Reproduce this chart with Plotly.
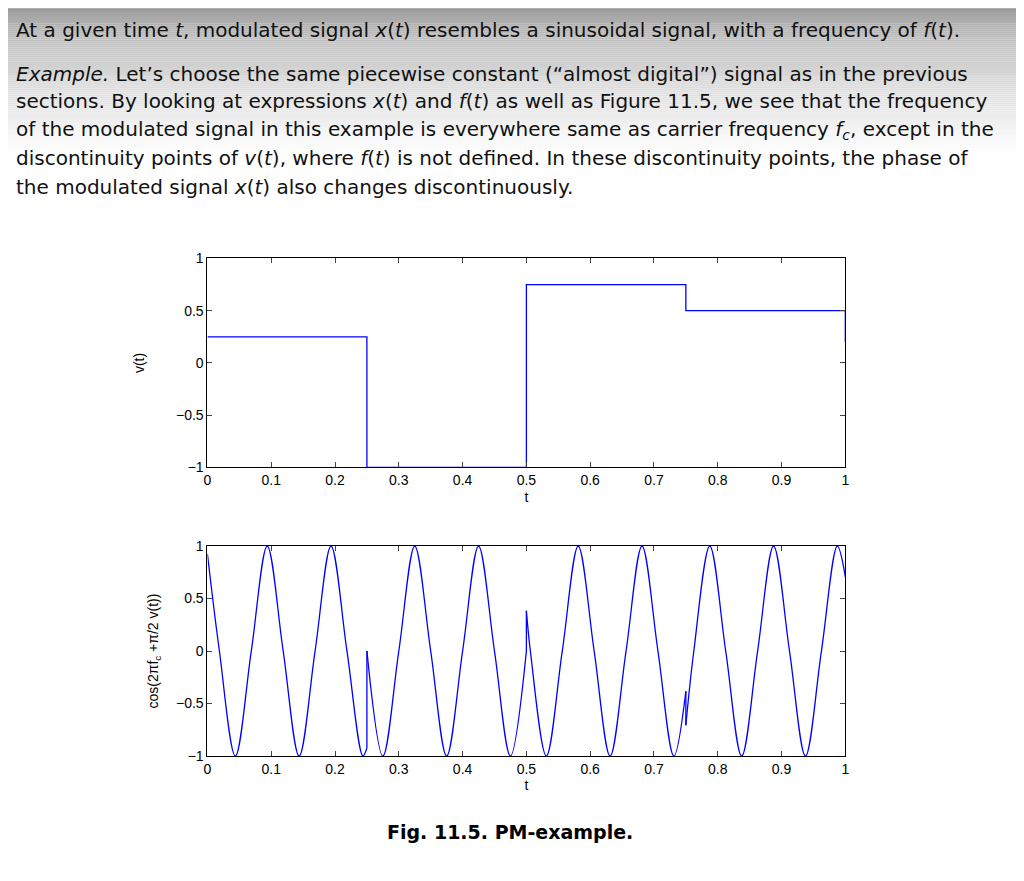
import plotly.graph_objects as go

W, H = 1024, 881
OFF = 8  # page margin of the browser

# piecewise constant message signal v(t)
v_t = [0, 0.25, 0.5, 0.75, 1.0, 1.0]
v_vals = [0.25, -1, 0.75, 0.5, 0.5, 0.2]

# key points (peaks, zero crossings, troughs) of the PM signal, read per segment
seg_t = [
    [0, 0.01875, 0.04375, 0.06875, 0.09375, 0.11875, 0.14375, 0.16875, 0.19375, 0.21875, 0.24375, 0.25],
    [0.25, 0.275, 0.3, 0.325, 0.35, 0.375, 0.4, 0.425, 0.45, 0.475, 0.5],
    [0.5, 0.50625, 0.53125, 0.55625, 0.58125, 0.60625, 0.63125, 0.65625, 0.68125, 0.70625, 0.73125, 0.75],
    [0.75, 0.7625, 0.7875, 0.8125, 0.8375, 0.8625, 0.8875, 0.9125, 0.9375, 0.9625, 0.9875, 1.0],
]
seg_x = [
    [0.924, 0, -1, 0, 1, 0, -1, 0, 1, 0, -1, -0.924],
    [0, -1, 0, 1, 0, -1, 0, 1, 0, -1, 0],
    [0.383, 0, -1, 0, 1, 0, -1, 0, 1, 0, -1, -0.383],
    [-0.707, 0, 1, 0, -1, 0, 1, 0, -1, 0, 1, 0.707],
]
# phase jumps at the discontinuities of v(t)
jump_t = [0.25, 0.25, None, 0.5, 0.5, None, 0.75, 0.75]
jump_x = [-0.924, 0, None, 0, 0.383, None, -0.383, -0.707]

text_lines = [
    (22, "At a given time <i>t</i>, modulated signal <i>x</i>(<i>t</i>) resembles a sinusoidal signal, with a frequency of <i>f</i>(<i>t</i>)."),
    (67, "<i>Example.</i> Let’s choose the same piecewise constant (“almost digital”) signal as in the previous"),
    (95, "sections. By looking at expressions <i>x</i>(<i>t</i>) and <i>f</i>(<i>t</i>) as well as Figure 11.5, we see that the frequency"),
    (124, "of the modulated signal in this example is everywhere same as carrier frequency <i>f</i><sub><i>c</i></sub>, except in the"),
    (153, "discontinuity points of <i>v</i>(<i>t</i>), where <i>f</i>(<i>t</i>) is not defined. In these discontinuity points, the phase of"),
    (182, "the modulated signal <i>x</i>(<i>t</i>) also changes discontinuously."),
]

PW, PH = W - 2 * OFF, H - 2 * OFF
def px(x):
    return (x - OFF) / PW
def py(y):
    return 1 - (y - OFF) / PH

blue = "#0000ff"
fig = go.Figure()
fig.add_trace(go.Scatter(x=v_t, y=v_vals, mode="lines", line=dict(color=blue, width=1.3, shape="hv"),
                         xaxis="x", yaxis="y"))
xs, ys = [], []
for t, x in zip(seg_t, seg_x):
    xs += t + [None]
    ys += x + [None]
fig.add_trace(go.Scatter(x=xs, y=ys, mode="lines", line=dict(color=blue, width=1.3, shape="spline", smoothing=1.0),
                         connectgaps=False, xaxis="x2", yaxis="y2"))
fig.add_trace(go.Scatter(x=jump_t, y=jump_x, mode="lines", line=dict(color=blue, width=1.3),
                         connectgaps=False, xaxis="x2", yaxis="y2"))

# gradient header background
shapes = []
n = 75
for i in range(n):
    c = int(150 + (255 - 150) * min(1, (i / (n - 1)) ** 0.6))
    shapes.append(dict(type="rect", xref="paper", yref="paper", layer="below",
                       x0=px(0), x1=px(W), y0=py((i + 1) * 2), y1=py(i * 2),
                       fillcolor=f"rgb({c},{c},{c})", line=dict(width=0)))
shapes.append(dict(type="line", xref="paper", yref="paper", x0=px(2), x1=px(2), y0=py(H), y1=py(0),
                   line=dict(color="#555", width=1.5)))

ann = []
for y, s in text_lines:
    ann.append(dict(x=px(10), y=py(y), xref="paper", yref="paper", text=s, showarrow=False,
                    xanchor="left", yanchor="middle", font=dict(family="DejaVu Sans", size=20, color="#111")))
ann.append(dict(x=px(510), y=py(853), xref="paper", yref="paper", text="<b>Fig. 11.5. PM-example.</b>",
                showarrow=False, font=dict(family="DejaVu Sans", size=19, color="black")))

lab = dict(family="Liberation Sans", size=14, color="black")
ax_common = dict(range=[0, 1], dtick=0.1, ticks="inside", ticklen=5, mirror="ticks", showline=True,
                 linecolor="black", linewidth=1, showgrid=False, zeroline=False, tickfont=lab)
ay_common = dict(range=[-1, 1], dtick=0.5, ticks="inside", ticklen=5, mirror="ticks", showline=True,
                 linecolor="black", linewidth=1, showgrid=False, zeroline=False, tickfont=lab)
xd = [px(205), px(848)]
fig.update_layout(
    width=PW, height=PH, margin=dict(l=0, r=0, t=0, b=0), showlegend=False,
    paper_bgcolor="white", plot_bgcolor="white", shapes=shapes, annotations=ann,
    xaxis=dict(ax_common, domain=xd, anchor="y", title=dict(text="t", standoff=4, font=lab)),
    yaxis=dict(ay_common, domain=[py(468), py(255)], anchor="x",
               title=dict(text="v(t)", standoff=28, font=lab)),
    xaxis2=dict(ax_common, domain=xd, anchor="y2", title=dict(text="t", standoff=4, font=lab)),
    yaxis2=dict(ay_common, domain=[py(762), py(548)], anchor="x2",
                title=dict(text="cos(2πf<sub>c</sub> +π/2 v(t))", standoff=14, font=lab)),
)
fig.write_html("out.html")
